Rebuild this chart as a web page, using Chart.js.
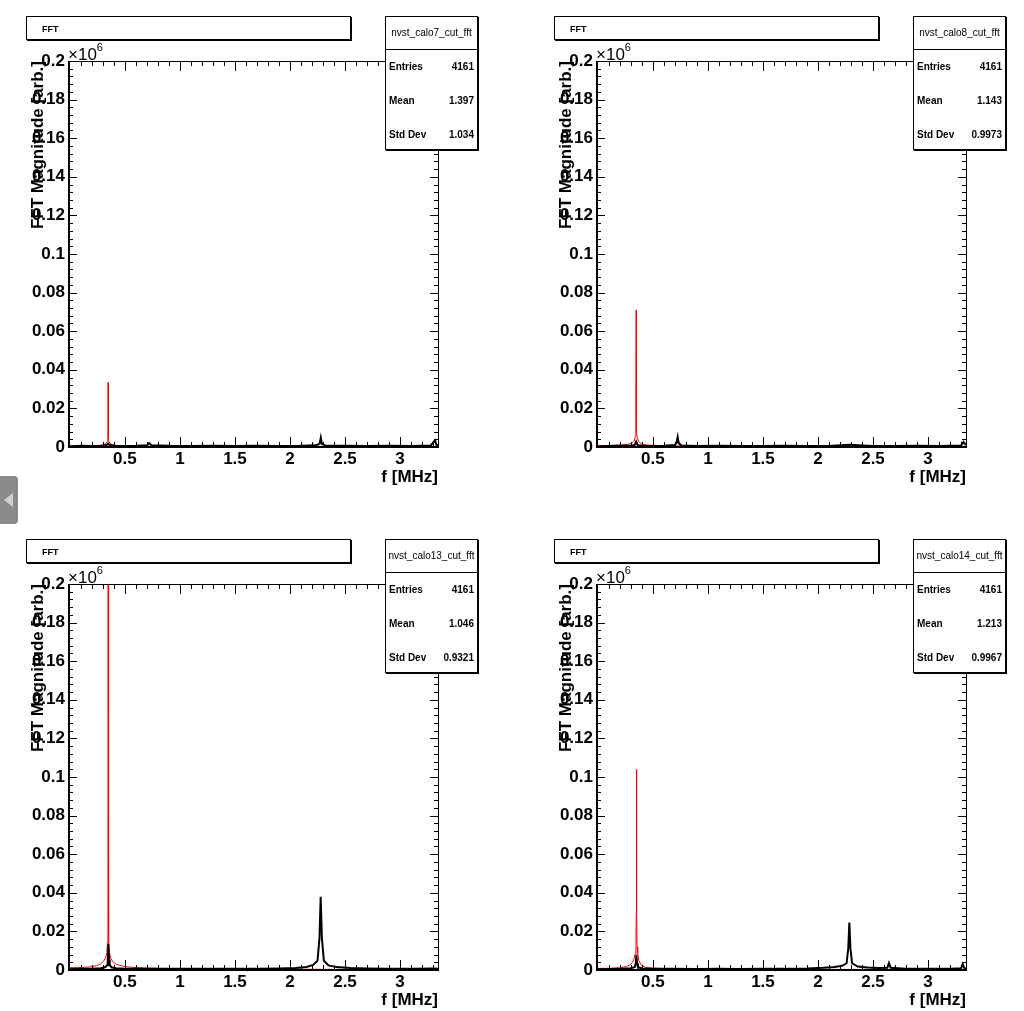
<!DOCTYPE html>
<html lang="en">
  <head>
    <meta charset="UTF-8" />
    <title>FFT - calo 7/8/13/14</title>
    <script src="https://cdn.jsdelivr.net/npm/chart.js"></script>
    <style>
      body {
        margin: 0;
        width: 1024px;
        height: 1011px;
        background: #fff;
        font-family: "Liberation Sans", Arial, sans-serif;
        position: relative;
        overflow: hidden;
      }

      .pad {
        position: absolute;
        width: 512px;
        height: 500px;
      }

      .pad canvas {
        position: absolute;
        left: 0;
        top: 0;
      }

      .title-box {
        position: absolute;
        left: 26px;
        top: 16px;
        width: 325px;
        height: 24px;
        border: 1px solid #000;
        box-shadow: 1px 1px 0 #000;
        background: #fff;
        font-size: 9px;
        font-weight: bold;
        line-height: 24px;
        padding-left: 15px;
        box-sizing: border-box;
      }

      .stats-box {
        position: absolute;
        left: 385px;
        top: 16px;
        width: 93px;
        height: 134px;
        border: 1px solid #000;
        box-shadow: 1px 1px 0 #000;
        background: #fff;
        box-sizing: border-box;
        font-size: 10px;
        font-weight: bold;
      }

      .stats-box .head {
        height: 32px;
        line-height: 31px;
        text-align: center;
        border-bottom: 1px solid #000;
        white-space: nowrap;
        font-weight: normal;
      }

      .stats-box .row {
        height: 34px;
        line-height: 34px;
        padding: 0 3px 0 3px;
        display: flex;
        justify-content: space-between;
      }

      .side-btn {
        position: absolute;
        left: 0;
        top: 476px;
        width: 18px;
        height: 48px;
        background: #8a8a8a;
        border-radius: 0 4px 4px 0;
      }

      .side-btn::after {
        content: "";
        position: absolute;
        left: 4px;
        top: 17px;
        border-top: 7px solid transparent;
        border-bottom: 7px solid transparent;
        border-right: 9px solid #cfcfcf;
      }
    </style>
  </head>

  <body>
    <div class="side-btn"></div>

    <script>
      // axis ticks (MHz and 10^6 arb.)
      const xTicks = [0.5, 1, 1.5, 2, 2.5, 3];
      const yTicks = [0, 0.02, 0.04, 0.06, 0.08, 0.1, 0.12, 0.14, 0.16, 0.18, 0.2];

      // stats boxes
      const histNames = ["nvst_calo7_cut_fft", "nvst_calo8_cut_fft", "nvst_calo13_cut_fft", "nvst_calo14_cut_fft"];
      const entries = [4161, 4161, 4161, 4161];
      const means = ["1.397", "1.143", "1.046", "1.213"];
      const stdDevs = ["1.034", "0.9973", "0.9321", "0.9967"];

      // spectra: [f (MHz), magnitude (x10^6)], black drawn over red
      const calo7Black = [[-0.008,0.0003],[0.1,0.0006],[0.2,0.0005],[0.3,0.0007],[0.335,0.001],[0.348,0.0018],[0.36,0.001],[0.4,0.0006],[0.5,0.0005],[0.6,0.0006],[0.7,0.0009],[0.72,0.002],[0.74,0.0009],[0.9,0.0006],[1.1,0.0005],[1.3,0.0006],[1.5,0.0005],[1.7,0.0006],[1.9,0.0005],[2.1,0.0006],[2.24,0.0009],[2.27,0.0018],[2.28,0.0048],[2.29,0.0016],[2.32,0.0008],[2.5,0.0006],[2.7,0.0005],[2.9,0.0006],[3.1,0.0005],[3.28,0.0008],[3.318,0.0036],[3.33,0.0012],[3.345,0.0008]];
      const calo7Red = [[-0.008,0.0006],[0.1,0.0005],[0.2,0.0007],[0.27,0.0009],[0.31,0.0013],[0.33,0.002],[0.342,0.0028],[0.346,0.004],[0.348,0.0335],[0.35,0.004],[0.356,0.0027],[0.37,0.0016],[0.4,0.001],[0.45,0.0007],[0.5,0.0005],[0.7,0.0004],[1.0,0.0003],[1.5,0.0003],[2.0,0.0003],[2.5,0.0003],[3.0,0.0003],[3.345,0.0003]];

      const calo8Black = [[-0.008,0.0003],[0.1,0.0005],[0.2,0.0006],[0.3,0.0007],[0.335,0.0011],[0.348,0.0028],[0.36,0.0011],[0.4,0.0006],[0.5,0.0005],[0.6,0.0006],[0.7,0.001],[0.715,0.0022],[0.725,0.0052],[0.735,0.002],[0.76,0.0008],[0.9,0.0005],[1.1,0.0006],[1.3,0.0005],[1.5,0.0005],[1.7,0.0006],[1.9,0.0005],[2.1,0.0005],[2.28,0.0012],[2.5,0.0005],[2.7,0.0005],[2.9,0.0006],[3.1,0.0005],[3.3,0.0008],[3.322,0.0026],[3.345,0.001]];
      const calo8Red = [[-0.008,0.0007],[0.1,0.0008],[0.2,0.001],[0.27,0.0013],[0.31,0.002],[0.33,0.003],[0.34,0.0055],[0.344,0.0072],[0.346,0.027],[0.348,0.071],[0.35,0.027],[0.352,0.0072],[0.358,0.005],[0.37,0.0028],[0.4,0.0015],[0.45,0.001],[0.55,0.0008],[0.65,0.0007],[0.8,0.0005],[1.0,0.0004],[1.5,0.0003],[2.0,0.0003],[2.5,0.0003],[3.0,0.0003],[3.345,0.0003]];

      const calo13Black = [[-0.008,0.0004],[0.1,0.0006],[0.2,0.0007],[0.28,0.0009],[0.32,0.0014],[0.338,0.0025],[0.344,0.0055],[0.35,0.0135],[0.356,0.0055],[0.362,0.0025],[0.38,0.0013],[0.42,0.0009],[0.5,0.0007],[0.7,0.0006],[0.9,0.0006],[1.1,0.0007],[1.3,0.0006],[1.5,0.0007],[1.7,0.0007],[1.9,0.0008],[2.05,0.001],[2.15,0.0016],[2.21,0.0026],[2.25,0.0048],[2.268,0.0165],[2.279,0.038],[2.29,0.0165],[2.308,0.0048],[2.35,0.0024],[2.42,0.0015],[2.55,0.001],[2.7,0.0008],[2.9,0.0007],[3.1,0.0006],[3.3,0.0008],[3.345,0.0006]];
      const calo13Red = [[-0.008,0.0012],[0.1,0.0013],[0.18,0.0016],[0.24,0.0022],[0.28,0.0032],[0.31,0.0048],[0.325,0.0065],[0.336,0.009],[0.342,0.014],[0.346,0.034],[0.348,0.26],[0.35,0.034],[0.354,0.014],[0.36,0.009],[0.372,0.006],[0.39,0.0043],[0.42,0.003],[0.48,0.002],[0.56,0.0014],[0.7,0.001],[0.85,0.0008],[1.0,0.0006],[1.3,0.0005],[1.6,0.0004],[2.0,0.0004],[2.5,0.0003],[3.0,0.0003],[3.345,0.0003]];

      const calo14Black = [[-0.008,0.0004],[0.1,0.0005],[0.2,0.0006],[0.3,0.0009],[0.336,0.0016],[0.344,0.0035],[0.35,0.0078],[0.356,0.0035],[0.364,0.0016],[0.4,0.0008],[0.5,0.0006],[0.7,0.0006],[0.9,0.0005],[1.1,0.0006],[1.3,0.0005],[1.5,0.0006],[1.7,0.0006],[1.9,0.0008],[2.05,0.0012],[2.15,0.0016],[2.22,0.0022],[2.26,0.0035],[2.275,0.011],[2.285,0.0246],[2.295,0.011],[2.31,0.0035],[2.36,0.0018],[2.45,0.0013],[2.55,0.001],[2.63,0.0012],[2.645,0.0036],[2.66,0.0012],[2.8,0.0007],[3.0,0.0006],[3.2,0.0006],[3.3,0.0009],[3.315,0.003],[3.33,0.001],[3.345,0.0007]];
      const calo14Red = [[-0.008,0.0008],[0.1,0.0009],[0.2,0.0012],[0.26,0.0018],[0.29,0.0026],[0.315,0.004],[0.33,0.006],[0.34,0.0085],[0.346,0.012],[0.349,0.03],[0.351,0.104],[0.353,0.03],[0.356,0.012],[0.362,0.0085],[0.372,0.005],[0.39,0.0028],[0.43,0.0014],[0.5,0.001],[0.6,0.0007],[0.8,0.0005],[1.0,0.0004],[1.5,0.0003],[2.0,0.0003],[2.5,0.0003],[3.0,0.0003],[3.345,0.0003]];

      const pads = [
        { left: 0, top: 0, black: calo7Black, red: calo7Red },
        { left: 528, top: 0, black: calo8Black, red: calo8Red },
        { left: 0, top: 523, black: calo13Black, red: calo13Red },
        { left: 528, top: 523, black: calo14Black, red: calo14Red },
      ];

      const FONT = "'Liberation Sans', Arial, sans-serif";

      // ROOT style frame: inward ticks on all four sides + x10^6 exponent
      const rootFrame = {
        id: "rootFrame",
        afterDatasetsDraw(chart) {
          const { ctx, chartArea: a, scales } = chart;
          const x = scales.x, y = scales.y;
          ctx.save();
          ctx.strokeStyle = "#000";
          ctx.lineWidth = 1;
          ctx.beginPath();
          for (let i = 1; i <= 33; i++) {
            const px = Math.round(x.getPixelForValue(i / 10)) + 0.5;
            const len = i % 5 === 0 ? 10 : 5;
            ctx.moveTo(px, a.bottom);
            ctx.lineTo(px, a.bottom - len);
            ctx.moveTo(px, a.top);
            ctx.lineTo(px, a.top + len);
          }
          for (let i = 1; i < 50; i++) {
            const py = Math.round(y.getPixelForValue(i * 0.004)) + 0.5;
            const len = i % 5 === 0 ? 8 : 4;
            ctx.moveTo(a.left, py);
            ctx.lineTo(a.left + len, py);
            ctx.moveTo(a.right, py);
            ctx.lineTo(a.right - len, py);
          }
          ctx.stroke();

          ctx.beginPath();
          ctx.moveTo(a.left, a.top + 0.5);
          ctx.lineTo(a.right + 0.5, a.top + 0.5);
          ctx.lineTo(a.right + 0.5, a.bottom);
          ctx.stroke();
          ctx.lineWidth = 2;
          ctx.beginPath();
          ctx.moveTo(a.left, a.top);
          ctx.lineTo(a.left, a.bottom);
          ctx.lineTo(a.right + 1, a.bottom);
          ctx.stroke();

          ctx.fillStyle = "#000";
          ctx.textBaseline = "alphabetic";
          ctx.textAlign = "left";
          ctx.font = "17px " + FONT;
          ctx.fillText("\u00d710", a.left - 1, a.top - 1);
          const w = ctx.measureText("\u00d710").width;
          ctx.font = "11px " + FONT;
          ctx.fillText("6", a.left - 1 + w, a.top - 10);
          ctx.restore();
        },
      };

      pads.forEach((p, i) => {
        const pad = document.createElement("div");
        pad.className = "pad";
        pad.style.left = p.left + "px";
        pad.style.top = p.top + "px";

        const canvas = document.createElement("canvas");
        canvas.width = 512;
        canvas.height = 500;
        pad.appendChild(canvas);

        const title = document.createElement("div");
        title.className = "title-box";
        title.textContent = "FFT";
        pad.appendChild(title);

        const stats = document.createElement("div");
        stats.className = "stats-box";
        stats.innerHTML =
          '<div class="head">' + histNames[i] + "</div>" +
          '<div class="row"><span>Entries</span><span>' + entries[i] + "</span></div>" +
          '<div class="row"><span>Mean</span><span>' + means[i] + "</span></div>" +
          '<div class="row"><span>Std Dev</span><span>' + stdDevs[i] + "</span></div>";
        pad.appendChild(stats);
        document.body.appendChild(pad);

        new Chart(canvas.getContext("2d"), {
          type: "line",
          data: {
            datasets: [
              {
                data: p.black.map((d) => ({ x: d[0], y: d[1] })),
                borderColor: "#000",
                borderWidth: 2,
                pointRadius: 0,
                tension: 0,
              },
              {
                data: p.red.map((d) => ({ x: d[0], y: d[1] })),
                borderColor: "#ff0000",
                borderWidth: 1,
                pointRadius: 0,
                tension: 0,
              },
            ],
          },
          options: {
            responsive: false,
            animation: false,
            events: [],
            layout: { padding: { top: 61, right: 74, left: 0, bottom: 0 } },
            plugins: { legend: { display: false }, tooltip: { enabled: false } },
            scales: {
              x: {
                type: "linear",
                min: -0.008,
                max: 3.345,
                afterBuildTicks: (s) => { s.ticks = xTicks.map((v) => ({ value: v })); },
                afterFit: (s) => { s.height = 53; },
                grid: { display: false, drawTicks: false },
                border: { display: false },
                ticks: {
                  padding: 2,
                  color: "#000",
                  maxRotation: 0,
                  font: { family: FONT, size: 17, weight: "bold" },
                  callback: (v) => String(v),
                },
                title: {
                  display: true,
                  text: "f [MHz]",
                  align: "end",
                  color: "#000",
                  padding: { top: 0, bottom: 12 },
                  font: { family: FONT, size: 17, weight: "bold" },
                },
              },
              y: {
                type: "linear",
                min: 0,
                max: 0.2,
                afterBuildTicks: (s) => { s.ticks = yTicks.map((v) => ({ value: v })); },
                afterFit: (s) => { s.width = 69; },
                grid: { display: false, drawTicks: false },
                border: { display: false },
                ticks: {
                  padding: 4,
                  color: "#000",
                  font: { family: FONT, size: 17, weight: "bold" },
                  callback: (v) => String(+v.toFixed(2)),
                },
                title: {
                  display: true,
                  text: "FFT Magnitude [arb.]",
                  align: "end",
                  color: "#000",
                  padding: { top: 28, bottom: 0 },
                  font: { family: FONT, size: 17, weight: "bold" },
                },
              },
            },
          },
          plugins: [rootFrame],
        });
      });
    </script>
  </body>
</html>
